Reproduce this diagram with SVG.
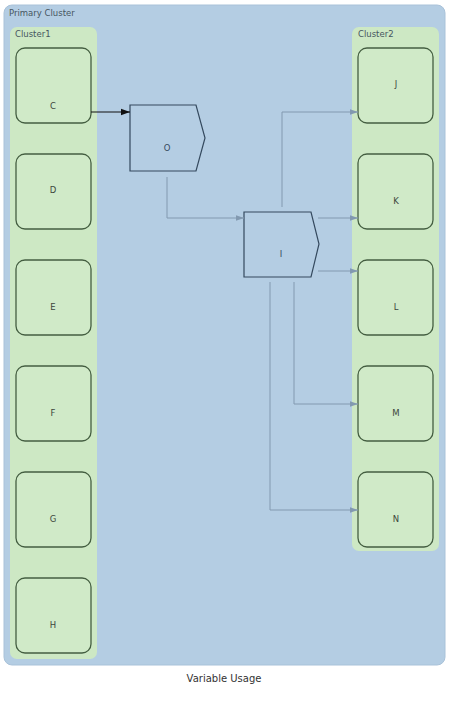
<svg xmlns="http://www.w3.org/2000/svg" width="474" height="707" viewBox="0 0 474 707">
<style>
.lbl{font-family:"DejaVu Sans","Liberation Sans",sans-serif;font-size:8.5px;fill:#3c463c;text-anchor:middle;dominant-baseline:central}
.ctitle{font-family:"DejaVu Sans","Liberation Sans",sans-serif;font-size:8.5px;fill:#46565f}
.node{fill:#d0eac8;stroke:#445e41;stroke-width:1.3}
.shape{fill:#b4cde3;stroke:#34495e;stroke-width:1.2}
.edge{fill:none;stroke:#8299b0;stroke-width:1}
.edgeb{fill:none;stroke:#111;stroke-width:1.2}
</style>
<defs>
<marker id="ag" viewBox="0 0 10 10" refX="10" refY="5" markerWidth="8" markerHeight="8" markerUnits="userSpaceOnUse" orient="auto"><path d="M0,1.5 L10,5 L0,8.5 z" fill="#8299b0"/></marker>
<marker id="ab" viewBox="0 0 10 10" refX="10" refY="5" markerWidth="9" markerHeight="9" markerUnits="userSpaceOnUse" orient="auto"><path d="M0,1.5 L10,5 L0,8.5 z" fill="#111"/></marker>
</defs>
<rect width="474" height="707" fill="#fff"/>
<g id="primary-cluster">
<rect x="4" y="5" width="441" height="660" rx="8" fill="#b4cde3" stroke="#a9c2d9" stroke-width="1"/>
<text class="ctitle" x="9" y="16">Primary Cluster</text>
</g>
<g id="cluster1">
<rect x="10" y="27" width="87" height="632" rx="7" fill="#cde8c4"/>
<text class="ctitle" x="15" y="37">Cluster1</text>
</g>
<g id="cluster2">
<rect x="352" y="27" width="87" height="524" rx="7" fill="#cde8c4"/>
<text class="ctitle" x="358" y="37">Cluster2</text>
</g>
<g id="C"><rect class="node" x="16" y="48" width="75" height="75" rx="9"/><text class="lbl" x="53" y="106">C</text></g>
<g id="D"><rect class="node" x="16" y="154" width="75" height="75" rx="9"/><text class="lbl" x="53" y="190">D</text></g>
<g id="E"><rect class="node" x="16" y="260" width="75" height="75" rx="9"/><text class="lbl" x="53" y="307">E</text></g>
<g id="F"><rect class="node" x="16" y="366" width="75" height="75" rx="9"/><text class="lbl" x="53" y="413">F</text></g>
<g id="G"><rect class="node" x="16" y="472" width="75" height="75" rx="9"/><text class="lbl" x="53" y="519">G</text></g>
<g id="H"><rect class="node" x="16" y="578" width="75" height="75" rx="9"/><text class="lbl" x="53" y="625">H</text></g>
<g id="J"><rect class="node" x="358" y="48" width="75" height="75" rx="9"/><text class="lbl" x="396" y="84">J</text></g>
<g id="K"><rect class="node" x="358" y="154" width="75" height="75" rx="9"/><text class="lbl" x="396" y="201">K</text></g>
<g id="L"><rect class="node" x="358" y="260" width="75" height="75" rx="9"/><text class="lbl" x="396" y="307">L</text></g>
<g id="M"><rect class="node" x="358" y="366" width="75" height="75" rx="9"/><text class="lbl" x="396" y="413">M</text></g>
<g id="N"><rect class="node" x="358" y="472" width="75" height="75" rx="9"/><text class="lbl" x="396" y="519">N</text></g>
<g id="O"><path class="shape" d="M130,105 L196,105 L205,138 L196,171 L130,171 Z"/><text class="lbl" x="167" y="148" style="fill:#34495e">O</text></g>
<g id="I"><path class="shape" d="M244,212 L311,212 L319,244 L311,277 L244,277 Z"/><text class="lbl" x="281" y="254" style="fill:#34495e">I</text></g>
<g id="connectors">
<path class="edgeb" d="M91,112 L130,112" marker-end="url(#ab)"/>
<path class="edge" d="M167,177 L167,218 L244,218" marker-end="url(#ag)"/>
<path class="edge" d="M282,207 L282,112 L358,112" marker-end="url(#ag)"/>
<path class="edge" d="M318,218 L358,218" marker-end="url(#ag)"/>
<path class="edge" d="M318,271 L358,271" marker-end="url(#ag)"/>
<path class="edge" d="M294,282 L294,404 L358,404" marker-end="url(#ag)"/>
<path class="edge" d="M270,282 L270,510 L358,510" marker-end="url(#ag)"/>
</g>
<text x="224" y="682" font-family="DejaVu Sans, Liberation Sans, sans-serif" font-size="10" fill="#333" text-anchor="middle">Variable Usage</text>
</svg>
